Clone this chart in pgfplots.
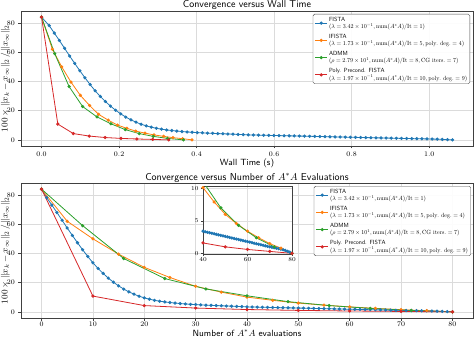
\documentclass[border=0pt]{standalone}
\usepackage{fontspec}
\usepackage{pgfplots}
\usepackage{pgfplotstable}
\pgfplotsset{compat=1.18}
\definecolor{tabblue}{HTML}{1F77B4}
\definecolor{taborange}{HTML}{FF7F0E}
\definecolor{tabgreen}{HTML}{2CA02C}
\definecolor{tabred}{HTML}{D62728}

\pgfplotstableread{
k t y
0 0.0000 84.0
1 0.0198 78.2
2 0.0329 73.1
3 0.0461 68.0
4 0.0593 62.7
5 0.0725 57.4
6 0.0856 52.3
7 0.0988 47.3
8 0.1120 42.5
9 0.1251 37.9
10 0.1383 33.6
11 0.1515 29.7
12 0.1646 26.3
13 0.1778 23.1
14 0.1910 20.3
15 0.2042 17.8
16 0.2173 15.6
17 0.2305 13.7
18 0.2437 12.1
19 0.2568 10.7
20 0.2700 9.6
21 0.2832 8.7
22 0.2963 7.9
23 0.3095 7.3
24 0.3227 6.8
25 0.3359 6.4
26 0.3490 6.0
27 0.3622 5.7
28 0.3754 5.4
29 0.3885 5.2
30 0.4017 5.0
31 0.4149 4.8
32 0.4280 4.6
33 0.4412 4.5
34 0.4544 4.3
35 0.4676 4.2
36 0.4807 4.0
37 0.4939 3.9
38 0.5071 3.7
39 0.5202 3.6
40 0.5334 3.4
41 0.5466 3.32
42 0.5597 3.24
43 0.5729 3.16
44 0.5861 3.08
45 0.5993 3.00
46 0.6124 2.92
47 0.6256 2.84
48 0.6388 2.76
49 0.6519 2.68
50 0.6651 2.60
51 0.6783 2.52
52 0.6914 2.44
53 0.7046 2.36
54 0.7178 2.28
55 0.7310 2.20
56 0.7441 2.12
57 0.7573 2.04
58 0.7705 1.96
59 0.7836 1.88
60 0.7968 1.80
61 0.8100 1.72
62 0.8231 1.64
63 0.8363 1.56
64 0.8495 1.48
65 0.8627 1.40
66 0.8758 1.32
67 0.8890 1.24
68 0.9022 1.16
69 0.9153 1.08
70 0.9285 1.00
71 0.9417 0.93
72 0.9548 0.86
73 0.9680 0.79
74 0.9812 0.72
75 0.9944 0.65
76 1.0075 0.55
77 1.0207 0.45
78 1.0339 0.32
79 1.0470 0.18
80 1.0602 0.00
}\fista

\pgfplotstableread{
k t y
0 0.000 84.0
5 0.028 62.0
10 0.052 50.0
15 0.076 39.5
20 0.100 30.5
25 0.124 23.5
30 0.147 17.5
35 0.172 13.5
40 0.196 10.1
45 0.220 7.9
50 0.243 6.0
55 0.267 4.6
60 0.290 3.4
65 0.315 2.4
70 0.339 1.5
75 0.364 0.8
80 0.388 0.0
}\ifista

\pgfplotstableread{
k t y
0 0.000 84.0
8 0.034 59.0
16 0.071 36.5
24 0.106 22.8
32 0.143 15.7
40 0.179 11.0
48 0.216 7.0
56 0.252 4.3
64 0.288 2.4
72 0.325 1.0
80 0.366 0.0
}\admm

\pgfplotstableread{
k t y
0 0.000 84.0
10 0.042 10.8
20 0.082 4.3
30 0.123 2.6
40 0.164 1.6
50 0.205 1.0
60 0.246 0.6
70 0.287 0.3
80 0.328 0.0
}\ppfista

\pgfplotsset{
  mainax/.style={
    scale only axis, width=452pt, height=135pt,
    ymin=-4.2, ymax=88.2, ytick={0,20,40,60,80},
    grid=major, major grid style={black!14, line width=0.6pt},
    axis line style={black!75, line width=0.6pt},
    tick align=outside, major tick length=2.5pt,
    tick style={black!75, line width=0.6pt},
    xtick pos=bottom, ytick pos=left,
    tick label style={font=\fontsize{7}{8}\selectfont},
    xticklabel style={yshift=0.5pt},
    title style={font=\sffamily\fontsize{10}{12}\selectfont, inner sep=0pt,
      at={(axis description cs:0.5,1)}, anchor=base, yshift=-3pt},
    xlabel style={font=\sffamily\fontsize{9}{10}\selectfont, inner sep=0pt,
      at={(axis description cs:0.5,0)}, anchor=base, yshift=-19.5pt},
    ylabel style={font=\fontsize{9}{10}\selectfont,
      at={([xshift=-7.5pt]axis description cs:0,0.5)}, anchor=south},
    ylabel={$100\times\|x_k-x_\infty\|_2\,/\,\|x_\infty\|_2$},
    legend cell align=left,
    legend image code/.code={\draw[mark repeat=2,mark phase=2] plot coordinates {(0cm,0cm) (0.22cm,0cm) (0.44cm,0cm)};},
    legend style={font=\fontsize{10}{12}\selectfont, cells={align=left},
      nodes={scale=0.6, transform shape},
      draw=black!70, rounded corners=1.5pt, fill=white, fill opacity=0.92, text opacity=1,
      anchor=north east, inner sep=1.5pt, row sep=2.5pt},
  },
  s1/.style={tabblue, mark=*, mark size=1.2pt, line width=0.8pt},
  s2/.style={taborange, mark=*, mark size=1.2pt, line width=0.8pt},
  s3/.style={tabgreen, mark=*, mark size=1.2pt, line width=0.8pt},
  s4/.style={tabred, mark=*, mark size=1.2pt, line width=0.8pt},
}

\newcommand{\legs}{%
  \addlegendentry{{\sffamily FISTA}\\$(\lambda=3.42\times10^{-1},\mathrm{num}(A^*A)/\mathrm{It}=1)$}
  \addlegendentry{{\sffamily IFISTA}\\$(\lambda=1.73\times10^{-1},\mathrm{num}(A^*A)/\mathrm{It}=5,\mathrm{poly.\ deg.}=4)$}
  \addlegendentry{{\sffamily ADMM}\\$(\rho=2.79\times10^{1},\mathrm{num}(A^*A)/\mathrm{It}=8,\mathrm{CG\ iters.}=7)$}
  \addlegendentry{{\sffamily Poly. Precond. FISTA}\\$(\lambda=1.97\times10^{-1},\mathrm{num}(A^*A)/\mathrm{It}=10,\mathrm{poly.\ deg.}=9)$}
}

\begin{document}
\begin{tikzpicture}
\path[use as bounding box] (-21pt,11pt) rectangle (453pt,-326pt);
\begin{axis}[mainax, at={(0,0)}, anchor=north west,
  xmin=-0.053, xmax=1.113, xtick={0,0.2,0.4,0.6,0.8,1.0},
  xticklabel style={/pgf/number format/fixed, /pgf/number format/fixed zerofill, /pgf/number format/precision=1},
  legend style={at={([xshift=-3pt,yshift=-3pt]axis description cs:1,1)}},
  title={Convergence versus Wall Time}, xlabel={Wall Time (s)}]
\addplot[s1] table[x=t,y=y]{\fista};
\addplot[s2] table[x=t,y=y]{\ifista};
\addplot[s3] table[x=t,y=y]{\admm};
\addplot[s4] table[x=t,y=y]{\ppfista};
\legs
\end{axis}

\begin{axis}[mainax, at={(0,-172pt)}, anchor=north west,
  xmin=-4, xmax=84, xtick={0,10,...,80},
  xlabel style={yshift=1.5pt}, xticklabel style={yshift=1.5pt},
  legend style={at={([xshift=-2pt,yshift=-3pt]axis description cs:1,1)}},
  title={Convergence versus Number of $A^*A$ Evaluations}, xlabel={Number of $A^*A$ evaluations}]
\addplot[s1] table[x=k,y=y]{\fista};
\addplot[s2] table[x=k,y=y]{\ifista};
\addplot[s3] table[x=k,y=y]{\admm};
\addplot[s4] table[x=k,y=y]{\ppfista};
\legs
\end{axis}

\begin{axis}[at={(182pt,-175pt)}, anchor=north west,
  scale only axis, width=89pt, height=68pt,
  xmin=40, xmax=80, ymin=-0.1, ymax=10.35,
  xtick={40,60,80}, ytick={0,5,10},
  axis background/.style={fill=white},
  grid=major, major grid style={black!12, line width=0.5pt},
  axis line style={black!75, line width=0.6pt},
  tick align=outside, major tick length=2pt,
  tick style={black!75, line width=0.6pt},
  xtick pos=bottom, ytick pos=left,
  tick label style={font=\fontsize{6.5}{7}\selectfont},
  xticklabel style={yshift=1.5pt}, yticklabel style={xshift=1pt}]
\addplot[s1] table[x=k,y=y]{\fista};
\addplot[s2] table[x=k,y=y]{\ifista};
\addplot[s3] table[x=k,y=y]{\admm};
\addplot[s4] table[x=k,y=y]{\ppfista};
\end{axis}
\end{tikzpicture}
\end{document}
